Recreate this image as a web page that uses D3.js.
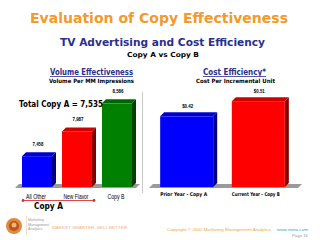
<!DOCTYPE html>
<html>
<head>
<meta charset="utf-8">
<script src="https://cdn.jsdelivr.net/npm/d3@7"></script>
<style>
  body { margin: 0; background: #fff; }
  svg { display: block; }
</style>
</head>
<body>
<svg id="chart"></svg>
<script>
const width = 320;
const height = 240;

// volume panel
const volumeCats = ["All Other", "New Flavor", "Copy B"];
const volumeVals = [7458, 7987, 8586];
const volumeLabels = ["7,458", "7,987", "8,586"];
const volumeColors = ["#0000ff", "#ff0000", "#008000"];
const volumeSides = ["#000080", "#800000", "#004000"];

// cost panel
const costCats = ["Prior Year - Copy A", "Current Year - Copy B"];
const costVals = [0.42, 0.51];
const costLabels = ["$0.42", "$0.51"];
const costColors = ["#0000ff", "#ff0000"];
const costSides = ["#000080", "#800000"];

const svg = d3.select("#chart")
    .attr("width", width)
    .attr("height", height);

svg.append("rect").attr("width", width).attr("height", height).attr("fill", "#fff");

const depth = 4;
const baseY = 187;
const narrow = "'Liberation Sans Narrow', 'Arial Narrow', 'Liberation Sans', sans-serif";
const plain = "'Liberation Sans', Arial, sans-serif";

// helper for fitted text
function label(x, y, str, opts) {
    const t = svg.append("text")
        .attr("x", x)
        .attr("y", y)
        .text(str)
        .attr("font-family", opts.family || "'DejaVu Sans', Verdana, sans-serif")
        .attr("font-size", opts.size)
        .attr("font-weight", opts.weight || "bold")
        .attr("fill", opts.color || "#000")
        .attr("text-anchor", opts.anchor || "start");
    if (opts.len) t.attr("textLength", opts.len).attr("lengthAdjust", "spacingAndGlyphs");
    if (opts.underline) t.style("text-decoration", "underline");
    return t;
}

// titles
label(30, 23, "Evaluation of Copy Effectiveness", { size: 13.5, color: "#f39a2b", len: 258 });
label(60, 46, "TV Advertising and Cost Efficiency", { size: 10, color: "#2b2f8c", len: 205 });
label(127, 56.5, "Copy A vs Copy B", { size: 6.8, len: 72 });

label(50, 75, "Volume Effectiveness", { size: 8, color: "#2b2f8c", len: 83, underline: true });
label(49, 82.5, "Volume Per MM Impressions", { size: 5.8, len: 85 });
label(203, 75, "Cost Efficiency*", { size: 8, color: "#2b2f8c", len: 63, underline: true });
label(196, 82.5, "Cost Per Incremental Unit", { size: 5.8, len: 79 });

// draws a floor plus 3d bars
function panel(cats, vals, labels, colors, sides, x, y, floorX, gap) {
    const g = svg.append("g");
    g.append("polygon")
        .attr("points", [
            [floorX[0], baseY + 1], [floorX[1] - depth, baseY + 1],
            [floorX[1], baseY - depth + 1], [floorX[0] + depth, baseY - depth + 1]
        ].map(p => p.join(",")).join(" "))
        .attr("fill", "#9a9a9a");

    const bars = g.selectAll(".bar")
        .data(cats)
        .join("g")
        .attr("class", "bar");

    bars.append("polygon")
        .attr("points", (d, i) => {
            const x1 = x(d) + x.bandwidth(), y1 = y(vals[i]);
            return [[x1, y1], [x1 + depth, y1 - depth], [x1 + depth, baseY - depth], [x1, baseY]]
                .map(p => p.join(",")).join(" ");
        })
        .attr("fill", (d, i) => sides[i]);

    bars.append("polygon")
        .attr("points", (d, i) => {
            const x0 = x(d), x1 = x0 + x.bandwidth(), y1 = y(vals[i]);
            return [[x0, y1], [x0 + depth, y1 - depth], [x1 + depth, y1 - depth], [x1, y1]]
                .map(p => p.join(",")).join(" ");
        })
        .attr("fill", (d, i) => d3.color(colors[i]).darker(0.6));

    bars.append("rect")
        .attr("x", d => x(d))
        .attr("y", (d, i) => y(vals[i]))
        .attr("width", x.bandwidth())
        .attr("height", (d, i) => baseY - y(vals[i]))
        .attr("fill", (d, i) => colors[i]);

    bars.append("text")
        .attr("x", d => x(d) + x.bandwidth() / 2 + 1)
        .attr("y", (d, i) => y(vals[i]) - gap)
        .attr("text-anchor", "middle")
        .attr("font-family", narrow)
        .attr("font-weight", "bold")
        .attr("font-size", 5.5)
        .attr("fill", "#000")
        .attr("textLength", 11)
        .attr("lengthAdjust", "spacingAndGlyphs")
        .text((d, i) => labels[i]);
}

const xVol = d3.scaleBand()
    .domain(volumeCats)
    .range([17, 137])
    .paddingInner(0.25)
    .paddingOuter(0.125);

const yVol = d3.scaleLinear()
    .domain([6800, 8700])
    .range([baseY, 98]);

panel(volumeCats, volumeVals, volumeLabels, volumeColors, volumeSides, xVol, yVol, [15, 140], 10);

const xCost = d3.scaleBand()
    .domain(costCats)
    .range([153, 292])
    .paddingInner(0.26)
    .paddingOuter(0.1);

const yCost = d3.scaleLinear()
    .domain([0, 0.6])
    .range([baseY, 86]);

panel(costCats, costVals, costLabels, costColors, costSides, xCost, yCost, [149, 302], 8);

// separator between panels
svg.append("line")
    .attr("x1", 142.5).attr("x2", 142.5)
    .attr("y1", 92).attr("y2", 193)
    .attr("stroke", "#c8c8c8").attr("stroke-width", 1);

// category labels
const volLabelWidths = [20, 25, 17];
svg.append("g").selectAll("text")
    .data(volumeCats)
    .join("text")
    .attr("x", d => xVol(d) + xVol.bandwidth() / 2 - 1)
    .attr("y", 199)
    .attr("text-anchor", "middle")
    .attr("font-family", narrow)
    .attr("font-size", 7.5)
    .attr("fill", "#000")
    .attr("textLength", (d, i) => volLabelWidths[i])
    .attr("lengthAdjust", "spacingAndGlyphs")
    .text(d => d);

const costLabelWidths = [47, 48];
svg.append("g").selectAll("text")
    .data(costCats)
    .join("text")
    .attr("x", d => xCost(d))
    .attr("y", 196)
    .attr("font-family", "'DejaVu Sans', Verdana, sans-serif")
    .attr("font-weight", "bold")
    .attr("font-size", 5.2)
    .attr("fill", "#000")
    .attr("textLength", (d, i) => costLabelWidths[i])
    .attr("lengthAdjust", "spacingAndGlyphs")
    .text(d => d);

label(19, 107, "Total Copy A = 7,535", { size: 8.5, len: 84 });

// Copy A bracket
svg.append("line")
    .attr("x1", 23).attr("x2", 94).attr("y1", 200.5).attr("y2", 200.5)
    .attr("stroke", "#e0474c").attr("stroke-width", 1.2);
svg.selectAll(".dot").data([23, 94]).join("circle")
    .attr("class", "dot")
    .attr("cx", d => d).attr("cy", 200.5).attr("r", 1.4)
    .attr("fill", "#d62f36");
label(34, 209, "Copy A", { size: 8.5, len: 29 });

// footer
const logo = svg.append("g").attr("transform", "translate(14,226)");
logo.append("circle").attr("r", 8).attr("fill", "#e08a3c");
logo.append("circle").attr("r", 5).attr("fill", "#b5542a");
logo.append("circle").attr("r", 2.5).attr("cy", -1).attr("fill", "#f5b46a");
svg.append("line").attr("x1", 26.5).attr("x2", 26.5).attr("y1", 216).attr("y2", 235)
    .attr("stroke", "#e9c8a4").attr("stroke-width", 0.6);
["Marketing", "Management", "Analytics"].forEach((s, i) => {
    label(28, 221 + i * 4.5, s, { size: 3.6, weight: "normal", color: "#9a9a9a", family: plain });
});
label(52, 229, "MARKET SMARTER. SELL BETTER", { size: 4.2, weight: "normal", color: "#f2b27a", len: 75, family: plain });
label(167, 230.5, "Copyright \u00a9 2002 Marketing Management Analytics", { size: 4.2, weight: "normal", color: "#f2a344", len: 104, family: plain });
label(277, 230.5, "www.mma.com", { size: 4.2, weight: "normal", color: "#3aa6b9", len: 31, family: plain });
label(308, 237, "Page 16", { size: 4.2, weight: "normal", color: "#9a9a9a", anchor: "end", len: 16, family: plain });
</script>
</body>
</html>
